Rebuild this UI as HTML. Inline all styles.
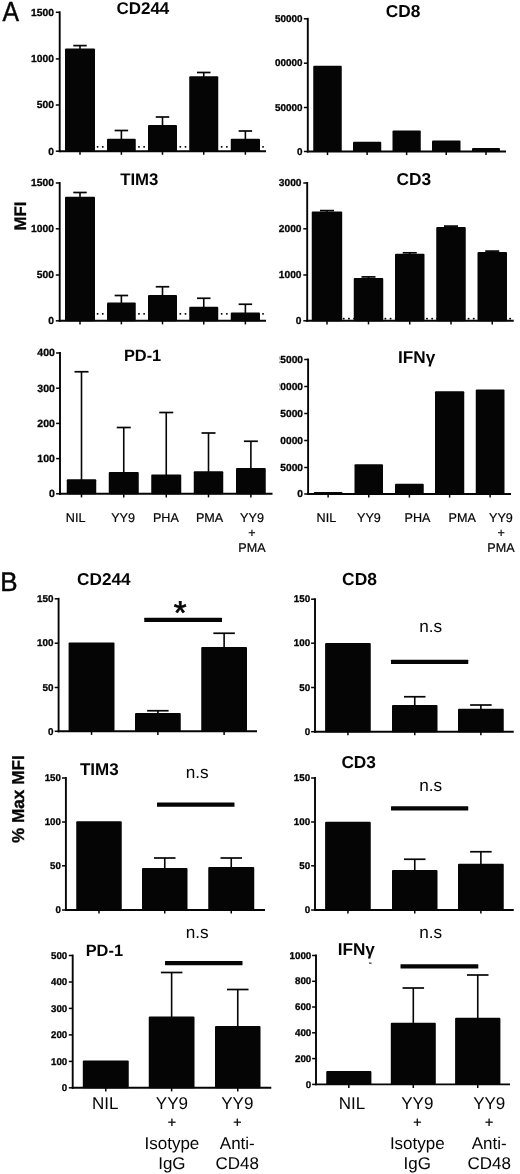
<!DOCTYPE html>
<html><head><meta charset="utf-8"><title>Figure</title>
<style>
html,body{margin:0;padding:0;background:#fff;}
svg{display:block;font-family:"Liberation Sans",sans-serif;fill:#050505;stroke:none;text-rendering:geometricPrecision;}
svg line{stroke:#050505;stroke-linecap:butt;}
svg .tl{stroke:#050505;stroke-width:0.3px;}
svg .xl{stroke:#050505;stroke-width:0.2px;}
</style></head><body>
<svg width="520" height="1174" viewBox="0 0 520 1174">
<defs>
<clipPath id="cl8"><rect x="274.5" y="0" width="60" height="170"/></clipPath>
<clipPath id="clg"><rect x="279.7" y="340" width="60" height="170"/></clipPath>
</defs>
<rect x="0" y="0" width="520" height="1174" fill="#fff"/>

<text transform="translate(2.4,20.7) scale(0.9,1)" font-size="27.5" stroke="#050505" stroke-width="0.45">A</text>
<rect x="96.70" y="145.90" width="1.8" height="1.8" rx="0.6"/>
<rect x="101.87" y="145.90" width="1.8" height="1.8" rx="0.6"/>
<rect x="107.04" y="145.90" width="1.8" height="1.8" rx="0.6"/>
<rect x="112.21" y="145.90" width="1.8" height="1.8" rx="0.6"/>
<rect x="117.38" y="145.90" width="1.8" height="1.8" rx="0.6"/>
<rect x="122.55" y="145.90" width="1.8" height="1.8" rx="0.6"/>
<rect x="127.72" y="145.90" width="1.8" height="1.8" rx="0.6"/>
<rect x="132.89" y="145.90" width="1.8" height="1.8" rx="0.6"/>
<rect x="138.06" y="145.90" width="1.8" height="1.8" rx="0.6"/>
<rect x="143.23" y="145.90" width="1.8" height="1.8" rx="0.6"/>
<rect x="148.40" y="145.90" width="1.8" height="1.8" rx="0.6"/>
<rect x="153.57" y="145.90" width="1.8" height="1.8" rx="0.6"/>
<rect x="158.74" y="145.90" width="1.8" height="1.8" rx="0.6"/>
<rect x="163.91" y="145.90" width="1.8" height="1.8" rx="0.6"/>
<rect x="169.08" y="145.90" width="1.8" height="1.8" rx="0.6"/>
<rect x="174.25" y="145.90" width="1.8" height="1.8" rx="0.6"/>
<rect x="179.42" y="145.90" width="1.8" height="1.8" rx="0.6"/>
<rect x="184.59" y="145.90" width="1.8" height="1.8" rx="0.6"/>
<rect x="189.76" y="145.90" width="1.8" height="1.8" rx="0.6"/>
<rect x="194.93" y="145.90" width="1.8" height="1.8" rx="0.6"/>
<rect x="200.10" y="145.90" width="1.8" height="1.8" rx="0.6"/>
<rect x="205.27" y="145.90" width="1.8" height="1.8" rx="0.6"/>
<rect x="210.44" y="145.90" width="1.8" height="1.8" rx="0.6"/>
<rect x="215.61" y="145.90" width="1.8" height="1.8" rx="0.6"/>
<rect x="220.78" y="145.90" width="1.8" height="1.8" rx="0.6"/>
<rect x="225.95" y="145.90" width="1.8" height="1.8" rx="0.6"/>
<rect x="231.12" y="145.90" width="1.8" height="1.8" rx="0.6"/>
<rect x="236.29" y="145.90" width="1.8" height="1.8" rx="0.6"/>
<rect x="241.46" y="145.90" width="1.8" height="1.8" rx="0.6"/>
<rect x="246.63" y="145.90" width="1.8" height="1.8" rx="0.6"/>
<rect x="251.80" y="145.90" width="1.8" height="1.8" rx="0.6"/>
<rect x="256.97" y="145.90" width="1.8" height="1.8" rx="0.6"/>
<rect x="262.14" y="145.90" width="1.8" height="1.8" rx="0.6"/>
<line x1="59.70" y1="11.35" x2="59.70" y2="152.15" stroke-width="1.9"/>
<line x1="58.75" y1="151.20" x2="266.00" y2="151.20" stroke-width="1.9"/>
<line x1="55.80" y1="12.30" x2="59.70" y2="12.30" stroke-width="1.5"/>
<text x="54.00" y="15.65" font-size="10.3" text-anchor="end" font-weight="bold" class="tl">1500</text>
<line x1="55.80" y1="58.90" x2="59.70" y2="58.90" stroke-width="1.5"/>
<text x="54.00" y="62.25" font-size="10.3" text-anchor="end" font-weight="bold" class="tl">1000</text>
<line x1="55.80" y1="105.00" x2="59.70" y2="105.00" stroke-width="1.5"/>
<text x="54.00" y="108.35" font-size="10.3" text-anchor="end" font-weight="bold" class="tl">500</text>
<line x1="55.80" y1="151.20" x2="59.70" y2="151.20" stroke-width="1.5"/>
<text x="54.00" y="154.55" font-size="10.3" text-anchor="end" font-weight="bold" class="tl">0</text>
<rect x="65.00" y="48.60" width="30.00" height="103.10" rx="1"/>
<line x1="80.00" y1="151.20" x2="80.00" y2="154.80" stroke-width="1.5"/>
<line x1="80.00" y1="45.60" x2="80.00" y2="49.60" stroke-width="1.6"/>
<line x1="73.25" y1="45.60" x2="86.75" y2="45.60" stroke-width="1.7"/>
<rect x="107.00" y="138.75" width="28.75" height="12.95" rx="1"/>
<line x1="121.38" y1="151.20" x2="121.38" y2="154.80" stroke-width="1.5"/>
<line x1="121.38" y1="130.50" x2="121.38" y2="139.75" stroke-width="1.6"/>
<line x1="114.62" y1="130.50" x2="128.12" y2="130.50" stroke-width="1.7"/>
<rect x="148.00" y="125.00" width="29.00" height="26.70" rx="1"/>
<line x1="162.50" y1="151.20" x2="162.50" y2="154.80" stroke-width="1.5"/>
<line x1="162.50" y1="117.00" x2="162.50" y2="126.00" stroke-width="1.6"/>
<line x1="155.75" y1="117.00" x2="169.25" y2="117.00" stroke-width="1.7"/>
<rect x="189.25" y="76.25" width="29.00" height="75.45" rx="1"/>
<line x1="203.75" y1="151.20" x2="203.75" y2="154.80" stroke-width="1.5"/>
<line x1="203.75" y1="72.50" x2="203.75" y2="77.25" stroke-width="1.6"/>
<line x1="197.00" y1="72.50" x2="210.50" y2="72.50" stroke-width="1.7"/>
<rect x="230.75" y="138.75" width="29.25" height="12.95" rx="1"/>
<line x1="245.38" y1="151.20" x2="245.38" y2="154.80" stroke-width="1.5"/>
<line x1="245.38" y1="131.00" x2="245.38" y2="139.75" stroke-width="1.6"/>
<line x1="238.62" y1="131.00" x2="252.12" y2="131.00" stroke-width="1.7"/>
<text x="116.40" y="14.30" font-size="17" text-anchor="start" font-weight="bold">CD244</text>
<rect x="96.70" y="312.90" width="1.8" height="1.8" rx="0.6"/>
<rect x="101.87" y="312.90" width="1.8" height="1.8" rx="0.6"/>
<rect x="107.04" y="312.90" width="1.8" height="1.8" rx="0.6"/>
<rect x="112.21" y="312.90" width="1.8" height="1.8" rx="0.6"/>
<rect x="117.38" y="312.90" width="1.8" height="1.8" rx="0.6"/>
<rect x="122.55" y="312.90" width="1.8" height="1.8" rx="0.6"/>
<rect x="127.72" y="312.90" width="1.8" height="1.8" rx="0.6"/>
<rect x="132.89" y="312.90" width="1.8" height="1.8" rx="0.6"/>
<rect x="138.06" y="312.90" width="1.8" height="1.8" rx="0.6"/>
<rect x="143.23" y="312.90" width="1.8" height="1.8" rx="0.6"/>
<rect x="148.40" y="312.90" width="1.8" height="1.8" rx="0.6"/>
<rect x="153.57" y="312.90" width="1.8" height="1.8" rx="0.6"/>
<rect x="158.74" y="312.90" width="1.8" height="1.8" rx="0.6"/>
<rect x="163.91" y="312.90" width="1.8" height="1.8" rx="0.6"/>
<rect x="169.08" y="312.90" width="1.8" height="1.8" rx="0.6"/>
<rect x="174.25" y="312.90" width="1.8" height="1.8" rx="0.6"/>
<rect x="179.42" y="312.90" width="1.8" height="1.8" rx="0.6"/>
<rect x="184.59" y="312.90" width="1.8" height="1.8" rx="0.6"/>
<rect x="189.76" y="312.90" width="1.8" height="1.8" rx="0.6"/>
<rect x="194.93" y="312.90" width="1.8" height="1.8" rx="0.6"/>
<rect x="200.10" y="312.90" width="1.8" height="1.8" rx="0.6"/>
<rect x="205.27" y="312.90" width="1.8" height="1.8" rx="0.6"/>
<rect x="210.44" y="312.90" width="1.8" height="1.8" rx="0.6"/>
<rect x="215.61" y="312.90" width="1.8" height="1.8" rx="0.6"/>
<rect x="220.78" y="312.90" width="1.8" height="1.8" rx="0.6"/>
<rect x="225.95" y="312.90" width="1.8" height="1.8" rx="0.6"/>
<rect x="231.12" y="312.90" width="1.8" height="1.8" rx="0.6"/>
<rect x="236.29" y="312.90" width="1.8" height="1.8" rx="0.6"/>
<rect x="241.46" y="312.90" width="1.8" height="1.8" rx="0.6"/>
<rect x="246.63" y="312.90" width="1.8" height="1.8" rx="0.6"/>
<rect x="251.80" y="312.90" width="1.8" height="1.8" rx="0.6"/>
<rect x="256.97" y="312.90" width="1.8" height="1.8" rx="0.6"/>
<rect x="262.14" y="312.90" width="1.8" height="1.8" rx="0.6"/>
<line x1="59.70" y1="182.05" x2="59.70" y2="321.75" stroke-width="1.9"/>
<line x1="58.75" y1="320.80" x2="266.00" y2="320.80" stroke-width="1.9"/>
<line x1="55.80" y1="183.00" x2="59.70" y2="183.00" stroke-width="1.5"/>
<text x="54.00" y="186.35" font-size="10.3" text-anchor="end" font-weight="bold" class="tl">1500</text>
<line x1="55.80" y1="228.80" x2="59.70" y2="228.80" stroke-width="1.5"/>
<text x="54.00" y="232.15" font-size="10.3" text-anchor="end" font-weight="bold" class="tl">1000</text>
<line x1="55.80" y1="275.00" x2="59.70" y2="275.00" stroke-width="1.5"/>
<text x="54.00" y="278.35" font-size="10.3" text-anchor="end" font-weight="bold" class="tl">500</text>
<line x1="55.80" y1="320.80" x2="59.70" y2="320.80" stroke-width="1.5"/>
<text x="54.00" y="324.15" font-size="10.3" text-anchor="end" font-weight="bold" class="tl">0</text>
<rect x="65.00" y="196.75" width="30.00" height="124.55" rx="1"/>
<line x1="80.00" y1="320.80" x2="80.00" y2="324.40" stroke-width="1.5"/>
<line x1="80.00" y1="192.50" x2="80.00" y2="197.75" stroke-width="1.6"/>
<line x1="73.25" y1="192.50" x2="86.75" y2="192.50" stroke-width="1.7"/>
<rect x="107.00" y="302.50" width="28.75" height="18.80" rx="1"/>
<line x1="121.38" y1="320.80" x2="121.38" y2="324.40" stroke-width="1.5"/>
<line x1="121.38" y1="295.50" x2="121.38" y2="303.50" stroke-width="1.6"/>
<line x1="114.62" y1="295.50" x2="128.12" y2="295.50" stroke-width="1.7"/>
<rect x="148.00" y="295.00" width="29.00" height="26.30" rx="1"/>
<line x1="162.50" y1="320.80" x2="162.50" y2="324.40" stroke-width="1.5"/>
<line x1="162.50" y1="286.75" x2="162.50" y2="296.00" stroke-width="1.6"/>
<line x1="155.75" y1="286.75" x2="169.25" y2="286.75" stroke-width="1.7"/>
<rect x="189.25" y="306.75" width="29.00" height="14.55" rx="1"/>
<line x1="203.75" y1="320.80" x2="203.75" y2="324.40" stroke-width="1.5"/>
<line x1="203.75" y1="298.25" x2="203.75" y2="307.75" stroke-width="1.6"/>
<line x1="197.00" y1="298.25" x2="210.50" y2="298.25" stroke-width="1.7"/>
<rect x="230.75" y="312.50" width="29.25" height="8.80" rx="1"/>
<line x1="245.38" y1="320.80" x2="245.38" y2="324.40" stroke-width="1.5"/>
<line x1="245.38" y1="304.25" x2="245.38" y2="313.50" stroke-width="1.6"/>
<line x1="238.62" y1="304.25" x2="252.12" y2="304.25" stroke-width="1.7"/>
<text x="120.20" y="184.90" font-size="16.8" text-anchor="start" font-weight="bold">TIM3</text>
<text transform="translate(25.9,230.4) rotate(-90)" font-size="16.8" font-weight="bold" stroke="#050505" stroke-width="0.3">MFI</text>
<line x1="60.00" y1="352.05" x2="60.00" y2="494.75" stroke-width="1.9"/>
<line x1="59.05" y1="493.80" x2="272.50" y2="493.80" stroke-width="1.9"/>
<line x1="56.10" y1="353.00" x2="60.00" y2="353.00" stroke-width="1.5"/>
<text x="54.90" y="356.42" font-size="10.5" text-anchor="end" font-weight="bold" class="tl">400</text>
<line x1="56.10" y1="388.20" x2="60.00" y2="388.20" stroke-width="1.5"/>
<text x="54.90" y="391.62" font-size="10.5" text-anchor="end" font-weight="bold" class="tl">300</text>
<line x1="56.10" y1="423.40" x2="60.00" y2="423.40" stroke-width="1.5"/>
<text x="54.90" y="426.82" font-size="10.5" text-anchor="end" font-weight="bold" class="tl">200</text>
<line x1="56.10" y1="458.60" x2="60.00" y2="458.60" stroke-width="1.5"/>
<text x="54.90" y="462.02" font-size="10.5" text-anchor="end" font-weight="bold" class="tl">100</text>
<line x1="56.10" y1="493.80" x2="60.00" y2="493.80" stroke-width="1.5"/>
<text x="54.90" y="497.22" font-size="10.5" text-anchor="end" font-weight="bold" class="tl">0</text>
<rect x="66.75" y="479.25" width="29.50" height="15.05" rx="1"/>
<line x1="81.50" y1="493.80" x2="81.50" y2="497.40" stroke-width="1.5"/>
<line x1="81.50" y1="371.75" x2="81.50" y2="480.25" stroke-width="1.6"/>
<line x1="74.50" y1="371.75" x2="88.50" y2="371.75" stroke-width="1.7"/>
<rect x="108.75" y="472.00" width="30.00" height="22.30" rx="1"/>
<line x1="123.75" y1="493.80" x2="123.75" y2="497.40" stroke-width="1.5"/>
<line x1="123.75" y1="427.50" x2="123.75" y2="473.00" stroke-width="1.6"/>
<line x1="116.75" y1="427.50" x2="130.75" y2="427.50" stroke-width="1.7"/>
<rect x="151.25" y="474.50" width="30.00" height="19.80" rx="1"/>
<line x1="166.25" y1="493.80" x2="166.25" y2="497.40" stroke-width="1.5"/>
<line x1="166.25" y1="412.50" x2="166.25" y2="475.50" stroke-width="1.6"/>
<line x1="159.25" y1="412.50" x2="173.25" y2="412.50" stroke-width="1.7"/>
<rect x="193.75" y="471.25" width="29.50" height="23.05" rx="1"/>
<line x1="208.50" y1="493.80" x2="208.50" y2="497.40" stroke-width="1.5"/>
<line x1="208.50" y1="433.00" x2="208.50" y2="472.25" stroke-width="1.6"/>
<line x1="201.50" y1="433.00" x2="215.50" y2="433.00" stroke-width="1.7"/>
<rect x="236.00" y="468.00" width="29.75" height="26.30" rx="1"/>
<line x1="250.88" y1="493.80" x2="250.88" y2="497.40" stroke-width="1.5"/>
<line x1="250.88" y1="441.25" x2="250.88" y2="469.00" stroke-width="1.6"/>
<line x1="243.88" y1="441.25" x2="257.88" y2="441.25" stroke-width="1.7"/>
<text x="123.90" y="361.30" font-size="16.4" text-anchor="start" font-weight="bold">PD-1</text>
<line x1="307.80" y1="17.85" x2="307.80" y2="152.45" stroke-width="1.9"/>
<line x1="306.85" y1="151.50" x2="506.00" y2="151.50" stroke-width="1.9"/>
<line x1="303.90" y1="18.80" x2="307.80" y2="18.80" stroke-width="1.5"/>
<text x="302.50" y="22.02" font-size="9.9" text-anchor="end" font-weight="bold" class="tl">50000</text>
<line x1="303.90" y1="63.20" x2="307.80" y2="63.20" stroke-width="1.5"/>
<text x="302.50" y="66.42" font-size="9.9" text-anchor="end" font-weight="bold" class="tl">00000</text>
<line x1="303.90" y1="107.50" x2="307.80" y2="107.50" stroke-width="1.5"/>
<text x="302.50" y="110.72" font-size="9.9" text-anchor="end" font-weight="bold" class="tl">50000</text>
<line x1="303.90" y1="151.50" x2="307.80" y2="151.50" stroke-width="1.5"/>
<text x="302.50" y="154.72" font-size="9.9" text-anchor="end" font-weight="bold" class="tl">0</text>
<rect x="313.25" y="65.75" width="28.50" height="86.25" rx="1"/>
<line x1="327.50" y1="151.50" x2="327.50" y2="155.10" stroke-width="1.5"/>
<rect x="353.00" y="141.75" width="28.25" height="10.25" rx="1"/>
<line x1="367.12" y1="151.50" x2="367.12" y2="155.10" stroke-width="1.5"/>
<rect x="392.50" y="130.50" width="28.25" height="21.50" rx="1"/>
<line x1="406.62" y1="151.50" x2="406.62" y2="155.10" stroke-width="1.5"/>
<rect x="432.00" y="140.50" width="28.50" height="11.50" rx="1"/>
<line x1="446.25" y1="151.50" x2="446.25" y2="155.10" stroke-width="1.5"/>
<rect x="472.00" y="148.00" width="28.00" height="4.00" rx="1"/>
<line x1="486.00" y1="151.50" x2="486.00" y2="155.10" stroke-width="1.5"/>
<text x="385.80" y="17.20" font-size="17.3" text-anchor="start" font-weight="bold">CD8</text>
<rect x="342.85" y="317.70" width="1.8" height="1.8" rx="0.6"/>
<rect x="348.05" y="317.70" width="1.8" height="1.8" rx="0.6"/>
<rect x="353.25" y="317.70" width="1.8" height="1.8" rx="0.6"/>
<rect x="358.45" y="317.70" width="1.8" height="1.8" rx="0.6"/>
<rect x="363.65" y="317.70" width="1.8" height="1.8" rx="0.6"/>
<rect x="368.85" y="317.70" width="1.8" height="1.8" rx="0.6"/>
<rect x="374.05" y="317.70" width="1.8" height="1.8" rx="0.6"/>
<rect x="379.25" y="317.70" width="1.8" height="1.8" rx="0.6"/>
<rect x="384.45" y="317.70" width="1.8" height="1.8" rx="0.6"/>
<rect x="389.65" y="317.70" width="1.8" height="1.8" rx="0.6"/>
<rect x="394.85" y="317.70" width="1.8" height="1.8" rx="0.6"/>
<rect x="400.05" y="317.70" width="1.8" height="1.8" rx="0.6"/>
<rect x="405.25" y="317.70" width="1.8" height="1.8" rx="0.6"/>
<rect x="410.45" y="317.70" width="1.8" height="1.8" rx="0.6"/>
<rect x="415.65" y="317.70" width="1.8" height="1.8" rx="0.6"/>
<rect x="420.85" y="317.70" width="1.8" height="1.8" rx="0.6"/>
<rect x="426.05" y="317.70" width="1.8" height="1.8" rx="0.6"/>
<rect x="431.25" y="317.70" width="1.8" height="1.8" rx="0.6"/>
<rect x="436.45" y="317.70" width="1.8" height="1.8" rx="0.6"/>
<rect x="441.65" y="317.70" width="1.8" height="1.8" rx="0.6"/>
<rect x="446.85" y="317.70" width="1.8" height="1.8" rx="0.6"/>
<rect x="452.05" y="317.70" width="1.8" height="1.8" rx="0.6"/>
<rect x="457.25" y="317.70" width="1.8" height="1.8" rx="0.6"/>
<rect x="462.45" y="317.70" width="1.8" height="1.8" rx="0.6"/>
<rect x="467.65" y="317.70" width="1.8" height="1.8" rx="0.6"/>
<rect x="472.85" y="317.70" width="1.8" height="1.8" rx="0.6"/>
<rect x="478.05" y="317.70" width="1.8" height="1.8" rx="0.6"/>
<rect x="483.25" y="317.70" width="1.8" height="1.8" rx="0.6"/>
<rect x="488.45" y="317.70" width="1.8" height="1.8" rx="0.6"/>
<rect x="493.65" y="317.70" width="1.8" height="1.8" rx="0.6"/>
<rect x="498.85" y="317.70" width="1.8" height="1.8" rx="0.6"/>
<rect x="504.05" y="317.70" width="1.8" height="1.8" rx="0.6"/>
<rect x="509.25" y="317.70" width="1.8" height="1.8" rx="0.6"/>
<line x1="307.20" y1="182.05" x2="307.20" y2="321.75" stroke-width="1.9"/>
<line x1="306.25" y1="320.80" x2="513.75" y2="320.80" stroke-width="1.9"/>
<line x1="303.30" y1="183.00" x2="307.20" y2="183.00" stroke-width="1.5"/>
<text x="301.50" y="186.32" font-size="10.2" text-anchor="end" font-weight="bold" class="tl">3000</text>
<line x1="303.30" y1="228.80" x2="307.20" y2="228.80" stroke-width="1.5"/>
<text x="301.50" y="232.12" font-size="10.2" text-anchor="end" font-weight="bold" class="tl">2000</text>
<line x1="303.30" y1="275.00" x2="307.20" y2="275.00" stroke-width="1.5"/>
<text x="301.50" y="278.32" font-size="10.2" text-anchor="end" font-weight="bold" class="tl">1000</text>
<line x1="303.30" y1="320.80" x2="307.20" y2="320.80" stroke-width="1.5"/>
<text x="301.50" y="324.12" font-size="10.2" text-anchor="end" font-weight="bold" class="tl">0</text>
<rect x="311.75" y="211.50" width="30.45" height="109.80" rx="1"/>
<line x1="326.98" y1="320.80" x2="326.98" y2="324.40" stroke-width="1.5"/>
<line x1="326.98" y1="210.60" x2="326.98" y2="212.50" stroke-width="1.6"/>
<line x1="319.98" y1="210.60" x2="333.98" y2="210.60" stroke-width="1.7"/>
<rect x="353.75" y="277.90" width="29.50" height="43.40" rx="1"/>
<line x1="368.50" y1="320.80" x2="368.50" y2="324.40" stroke-width="1.5"/>
<line x1="368.50" y1="276.90" x2="368.50" y2="278.90" stroke-width="1.6"/>
<line x1="361.50" y1="276.90" x2="375.50" y2="276.90" stroke-width="1.7"/>
<rect x="395.00" y="253.75" width="29.50" height="67.55" rx="1"/>
<line x1="409.75" y1="320.80" x2="409.75" y2="324.40" stroke-width="1.5"/>
<line x1="409.75" y1="252.80" x2="409.75" y2="254.75" stroke-width="1.6"/>
<line x1="402.75" y1="252.80" x2="416.75" y2="252.80" stroke-width="1.7"/>
<rect x="436.25" y="227.00" width="29.50" height="94.30" rx="1"/>
<line x1="451.00" y1="320.80" x2="451.00" y2="324.40" stroke-width="1.5"/>
<line x1="451.00" y1="226.10" x2="451.00" y2="228.00" stroke-width="1.6"/>
<line x1="444.00" y1="226.10" x2="458.00" y2="226.10" stroke-width="1.7"/>
<rect x="477.50" y="252.00" width="29.50" height="69.30" rx="1"/>
<line x1="492.25" y1="320.80" x2="492.25" y2="324.40" stroke-width="1.5"/>
<line x1="492.25" y1="251.10" x2="492.25" y2="253.00" stroke-width="1.6"/>
<line x1="485.25" y1="251.10" x2="499.25" y2="251.10" stroke-width="1.7"/>
<text x="396.50" y="185.00" font-size="17.3" text-anchor="start" font-weight="bold">CD3</text>
<line x1="308.10" y1="358.55" x2="308.10" y2="494.95" stroke-width="1.9"/>
<line x1="307.15" y1="494.00" x2="511.00" y2="494.00" stroke-width="1.9"/>
<line x1="304.20" y1="359.50" x2="308.10" y2="359.50" stroke-width="1.5"/>
<text x="303.00" y="362.82" font-size="10.2" text-anchor="end" font-weight="bold" clip-path="url(#clg)" class="tl">25000</text>
<line x1="304.20" y1="386.50" x2="308.10" y2="386.50" stroke-width="1.5"/>
<text x="303.00" y="389.82" font-size="10.2" text-anchor="end" font-weight="bold" clip-path="url(#clg)" class="tl">20000</text>
<line x1="304.20" y1="413.50" x2="308.10" y2="413.50" stroke-width="1.5"/>
<text x="303.00" y="416.82" font-size="10.2" text-anchor="end" font-weight="bold" clip-path="url(#clg)" class="tl">5000</text>
<line x1="304.20" y1="440.50" x2="308.10" y2="440.50" stroke-width="1.5"/>
<text x="303.00" y="443.82" font-size="10.2" text-anchor="end" font-weight="bold" clip-path="url(#clg)" class="tl">0000</text>
<line x1="304.20" y1="467.50" x2="308.10" y2="467.50" stroke-width="1.5"/>
<text x="303.00" y="470.82" font-size="10.2" text-anchor="end" font-weight="bold" clip-path="url(#clg)" class="tl">5000</text>
<line x1="304.20" y1="494.00" x2="308.10" y2="494.00" stroke-width="1.5"/>
<text x="303.00" y="497.32" font-size="10.2" text-anchor="end" font-weight="bold" clip-path="url(#clg)" class="tl">0</text>
<rect x="313.75" y="492.00" width="28.75" height="2.50" rx="1"/>
<line x1="328.12" y1="494.00" x2="328.12" y2="497.60" stroke-width="1.5"/>
<rect x="354.50" y="464.25" width="28.50" height="30.25" rx="1"/>
<line x1="368.75" y1="494.00" x2="368.75" y2="497.60" stroke-width="1.5"/>
<rect x="395.00" y="483.75" width="28.75" height="10.75" rx="1"/>
<line x1="409.38" y1="494.00" x2="409.38" y2="497.60" stroke-width="1.5"/>
<rect x="435.00" y="391.25" width="29.25" height="103.25" rx="1"/>
<line x1="449.62" y1="494.00" x2="449.62" y2="497.60" stroke-width="1.5"/>
<rect x="475.75" y="389.50" width="28.75" height="105.00" rx="1"/>
<line x1="490.12" y1="494.00" x2="490.12" y2="497.60" stroke-width="1.5"/>
<text x="398.10" y="363.30" font-size="17.2" text-anchor="start" font-weight="bold">IFNγ</text>
<text x="75.60" y="521.90" font-size="12.6" text-anchor="middle" font-weight="normal" class="xl">NIL</text>
<text x="123.10" y="521.90" font-size="12.6" text-anchor="middle" font-weight="normal" class="xl">YY9</text>
<text x="165.90" y="521.90" font-size="12.6" text-anchor="middle" font-weight="normal" class="xl">PHA</text>
<text x="209.60" y="521.90" font-size="12.6" text-anchor="middle" font-weight="normal" class="xl">PMA</text>
<text x="252.00" y="521.90" font-size="12.6" text-anchor="middle" font-weight="normal" class="xl">YY9</text>
<text x="252.00" y="537.00" font-size="12.6" text-anchor="middle" font-weight="normal" class="xl">+</text>
<text x="252.00" y="551.90" font-size="12.6" text-anchor="middle" font-weight="normal" class="xl">PMA</text>
<text x="326.40" y="521.90" font-size="12.6" text-anchor="middle" font-weight="normal" class="xl">NIL</text>
<text x="368.90" y="521.90" font-size="12.6" text-anchor="middle" font-weight="normal" class="xl">YY9</text>
<text x="417.50" y="521.90" font-size="12.6" text-anchor="middle" font-weight="normal" class="xl">PHA</text>
<text x="462.20" y="521.90" font-size="12.6" text-anchor="middle" font-weight="normal" class="xl">PMA</text>
<text x="500.90" y="521.90" font-size="12.6" text-anchor="middle" font-weight="normal" class="xl">YY9</text>
<text x="501.20" y="537.00" font-size="12.6" text-anchor="middle" font-weight="normal" class="xl">+</text>
<text x="500.90" y="551.90" font-size="12.6" text-anchor="middle" font-weight="normal" class="xl">PMA</text>
<text transform="translate(0.3,591.0) scale(0.97,1)" font-size="26.8" stroke="#050505" stroke-width="0.5">B</text>
<line x1="58.60" y1="597.85" x2="58.60" y2="732.25" stroke-width="1.9"/>
<line x1="57.65" y1="731.30" x2="257.00" y2="731.30" stroke-width="1.9"/>
<line x1="54.70" y1="598.80" x2="58.60" y2="598.80" stroke-width="1.5"/>
<text x="53.40" y="602.02" font-size="9.9" text-anchor="end" font-weight="bold" class="tl">150</text>
<line x1="54.70" y1="643.20" x2="58.60" y2="643.20" stroke-width="1.5"/>
<text x="53.40" y="646.42" font-size="9.9" text-anchor="end" font-weight="bold" class="tl">100</text>
<line x1="54.70" y1="687.50" x2="58.60" y2="687.50" stroke-width="1.5"/>
<text x="53.40" y="690.72" font-size="9.9" text-anchor="end" font-weight="bold" class="tl">50</text>
<line x1="54.70" y1="731.30" x2="58.60" y2="731.30" stroke-width="1.5"/>
<text x="53.40" y="734.52" font-size="9.9" text-anchor="end" font-weight="bold" class="tl">0</text>
<rect x="68.60" y="642.50" width="45.90" height="89.30" rx="1"/>
<line x1="91.55" y1="731.30" x2="91.55" y2="734.90" stroke-width="1.5"/>
<rect x="135.00" y="713.00" width="45.75" height="18.80" rx="1"/>
<line x1="157.88" y1="731.30" x2="157.88" y2="734.90" stroke-width="1.5"/>
<line x1="157.88" y1="710.75" x2="157.88" y2="714.00" stroke-width="1.6"/>
<line x1="147.12" y1="710.75" x2="168.62" y2="710.75" stroke-width="1.7"/>
<rect x="201.25" y="647.00" width="45.75" height="84.80" rx="1"/>
<line x1="224.12" y1="731.30" x2="224.12" y2="734.90" stroke-width="1.5"/>
<line x1="224.12" y1="633.25" x2="224.12" y2="648.00" stroke-width="1.6"/>
<line x1="213.38" y1="633.25" x2="234.88" y2="633.25" stroke-width="1.7"/>
<text x="77.10" y="584.80" font-size="17.2" text-anchor="start" font-weight="bold">CD244</text>
<rect x="144.25" y="617.80" width="77.75" height="4.20" rx="0.5"/>
<text x="180.10" y="624.00" font-size="33" text-anchor="middle" font-weight="normal" stroke="#050505" stroke-width="0.7">*</text>
<line x1="65.90" y1="777.05" x2="65.90" y2="910.95" stroke-width="1.9"/>
<line x1="64.95" y1="910.00" x2="265.00" y2="910.00" stroke-width="1.9"/>
<line x1="62.00" y1="778.00" x2="65.90" y2="778.00" stroke-width="1.5"/>
<text x="60.90" y="781.15" font-size="9.7" text-anchor="end" font-weight="bold" class="tl">150</text>
<line x1="62.00" y1="822.00" x2="65.90" y2="822.00" stroke-width="1.5"/>
<text x="60.90" y="825.15" font-size="9.7" text-anchor="end" font-weight="bold" class="tl">100</text>
<line x1="62.00" y1="865.80" x2="65.90" y2="865.80" stroke-width="1.5"/>
<text x="60.90" y="868.95" font-size="9.7" text-anchor="end" font-weight="bold" class="tl">50</text>
<line x1="62.00" y1="910.00" x2="65.90" y2="910.00" stroke-width="1.5"/>
<text x="60.90" y="913.15" font-size="9.7" text-anchor="end" font-weight="bold" class="tl">0</text>
<rect x="76.25" y="821.25" width="45.50" height="89.25" rx="1"/>
<line x1="99.00" y1="910.00" x2="99.00" y2="913.60" stroke-width="1.5"/>
<rect x="142.00" y="868.00" width="45.50" height="42.50" rx="1"/>
<line x1="164.75" y1="910.00" x2="164.75" y2="913.60" stroke-width="1.5"/>
<line x1="164.75" y1="858.00" x2="164.75" y2="869.00" stroke-width="1.6"/>
<line x1="154.00" y1="858.00" x2="175.50" y2="858.00" stroke-width="1.7"/>
<rect x="208.25" y="867.00" width="46.00" height="43.50" rx="1"/>
<line x1="231.25" y1="910.00" x2="231.25" y2="913.60" stroke-width="1.5"/>
<line x1="231.25" y1="858.00" x2="231.25" y2="868.00" stroke-width="1.6"/>
<line x1="220.50" y1="858.00" x2="242.00" y2="858.00" stroke-width="1.7"/>
<text x="79.90" y="774.80" font-size="17.0" text-anchor="start" font-weight="bold">TIM3</text>
<rect x="157.00" y="802.50" width="77.50" height="4.20" rx="0.5"/>
<text x="197.10" y="777.60" font-size="17.2" text-anchor="middle" font-weight="normal">n.s</text>
<text transform="translate(23.6,843.1) rotate(-90)" font-size="17.2" font-weight="bold" stroke="#050505" stroke-width="0.35">% Max MFI</text>
<line x1="72.70" y1="954.55" x2="72.70" y2="1088.75" stroke-width="1.9"/>
<line x1="71.75" y1="1087.80" x2="271.30" y2="1087.80" stroke-width="1.9"/>
<line x1="68.80" y1="955.50" x2="72.70" y2="955.50" stroke-width="1.5"/>
<text x="67.20" y="958.65" font-size="9.7" text-anchor="end" font-weight="bold" class="tl">500</text>
<line x1="68.80" y1="982.00" x2="72.70" y2="982.00" stroke-width="1.5"/>
<text x="67.20" y="985.15" font-size="9.7" text-anchor="end" font-weight="bold" class="tl">400</text>
<line x1="68.80" y1="1008.40" x2="72.70" y2="1008.40" stroke-width="1.5"/>
<text x="67.20" y="1011.55" font-size="9.7" text-anchor="end" font-weight="bold" class="tl">300</text>
<line x1="68.80" y1="1034.90" x2="72.70" y2="1034.90" stroke-width="1.5"/>
<text x="67.20" y="1038.05" font-size="9.7" text-anchor="end" font-weight="bold" class="tl">200</text>
<line x1="68.80" y1="1061.40" x2="72.70" y2="1061.40" stroke-width="1.5"/>
<text x="67.20" y="1064.55" font-size="9.7" text-anchor="end" font-weight="bold" class="tl">100</text>
<line x1="68.80" y1="1087.80" x2="72.70" y2="1087.80" stroke-width="1.5"/>
<text x="67.20" y="1090.95" font-size="9.7" text-anchor="end" font-weight="bold" class="tl">0</text>
<rect x="82.80" y="1060.40" width="45.95" height="27.90" rx="1"/>
<line x1="105.78" y1="1087.80" x2="105.78" y2="1091.40" stroke-width="1.5"/>
<rect x="148.75" y="1016.50" width="45.75" height="71.80" rx="1"/>
<line x1="171.62" y1="1087.80" x2="171.62" y2="1091.40" stroke-width="1.5"/>
<line x1="171.62" y1="972.50" x2="171.62" y2="1017.50" stroke-width="1.6"/>
<line x1="160.88" y1="972.50" x2="182.38" y2="972.50" stroke-width="1.7"/>
<rect x="215.00" y="1026.00" width="45.50" height="62.30" rx="1"/>
<line x1="237.75" y1="1087.80" x2="237.75" y2="1091.40" stroke-width="1.5"/>
<line x1="237.75" y1="989.50" x2="237.75" y2="1027.00" stroke-width="1.6"/>
<line x1="227.00" y1="989.50" x2="248.50" y2="989.50" stroke-width="1.7"/>
<text x="85.70" y="955.60" font-size="16.4" text-anchor="start" font-weight="bold">PD-1</text>
<rect x="165.00" y="961.00" width="77.50" height="4.20" rx="0.5"/>
<text x="197.10" y="937.60" font-size="17.2" text-anchor="middle" font-weight="normal">n.s</text>
<line x1="315.00" y1="598.25" x2="315.00" y2="732.65" stroke-width="1.9"/>
<line x1="314.05" y1="731.70" x2="513.75" y2="731.70" stroke-width="1.9"/>
<line x1="311.10" y1="599.20" x2="315.00" y2="599.20" stroke-width="1.5"/>
<text x="310.20" y="602.38" font-size="9.8" text-anchor="end" font-weight="bold" class="tl">150</text>
<line x1="311.10" y1="643.20" x2="315.00" y2="643.20" stroke-width="1.5"/>
<text x="310.20" y="646.38" font-size="9.8" text-anchor="end" font-weight="bold" class="tl">100</text>
<line x1="311.10" y1="687.50" x2="315.00" y2="687.50" stroke-width="1.5"/>
<text x="310.20" y="690.68" font-size="9.8" text-anchor="end" font-weight="bold" class="tl">50</text>
<line x1="311.10" y1="731.70" x2="315.00" y2="731.70" stroke-width="1.5"/>
<text x="310.20" y="734.88" font-size="9.8" text-anchor="end" font-weight="bold" class="tl">0</text>
<rect x="325.10" y="643.00" width="45.65" height="89.20" rx="1"/>
<line x1="347.93" y1="731.70" x2="347.93" y2="735.30" stroke-width="1.5"/>
<rect x="392.00" y="705.00" width="45.50" height="27.20" rx="1"/>
<line x1="414.75" y1="731.70" x2="414.75" y2="735.30" stroke-width="1.5"/>
<line x1="414.75" y1="696.75" x2="414.75" y2="706.00" stroke-width="1.6"/>
<line x1="404.00" y1="696.75" x2="425.50" y2="696.75" stroke-width="1.7"/>
<rect x="458.00" y="708.75" width="45.75" height="23.45" rx="1"/>
<line x1="480.88" y1="731.70" x2="480.88" y2="735.30" stroke-width="1.5"/>
<line x1="480.88" y1="705.00" x2="480.88" y2="709.75" stroke-width="1.6"/>
<line x1="470.12" y1="705.00" x2="491.62" y2="705.00" stroke-width="1.7"/>
<text x="342.10" y="585.00" font-size="17.4" text-anchor="start" font-weight="bold">CD8</text>
<rect x="391.00" y="659.80" width="77.25" height="4.20" rx="0.5"/>
<text x="430.60" y="631.80" font-size="17.2" text-anchor="middle" font-weight="normal">n.s</text>
<line x1="315.00" y1="777.05" x2="315.00" y2="910.95" stroke-width="1.9"/>
<line x1="314.05" y1="910.00" x2="513.75" y2="910.00" stroke-width="1.9"/>
<line x1="311.10" y1="778.00" x2="315.00" y2="778.00" stroke-width="1.5"/>
<text x="310.20" y="781.18" font-size="9.8" text-anchor="end" font-weight="bold" class="tl">150</text>
<line x1="311.10" y1="822.00" x2="315.00" y2="822.00" stroke-width="1.5"/>
<text x="310.20" y="825.18" font-size="9.8" text-anchor="end" font-weight="bold" class="tl">100</text>
<line x1="311.10" y1="865.80" x2="315.00" y2="865.80" stroke-width="1.5"/>
<text x="310.20" y="868.98" font-size="9.8" text-anchor="end" font-weight="bold" class="tl">50</text>
<line x1="311.10" y1="910.00" x2="315.00" y2="910.00" stroke-width="1.5"/>
<text x="310.20" y="913.18" font-size="9.8" text-anchor="end" font-weight="bold" class="tl">0</text>
<rect x="325.10" y="821.75" width="45.65" height="88.75" rx="1"/>
<line x1="347.93" y1="910.00" x2="347.93" y2="913.60" stroke-width="1.5"/>
<rect x="392.00" y="870.00" width="45.50" height="40.50" rx="1"/>
<line x1="414.75" y1="910.00" x2="414.75" y2="913.60" stroke-width="1.5"/>
<line x1="414.75" y1="859.25" x2="414.75" y2="871.00" stroke-width="1.6"/>
<line x1="404.00" y1="859.25" x2="425.50" y2="859.25" stroke-width="1.7"/>
<rect x="458.00" y="863.75" width="45.75" height="46.75" rx="1"/>
<line x1="480.88" y1="910.00" x2="480.88" y2="913.60" stroke-width="1.5"/>
<line x1="480.88" y1="851.75" x2="480.88" y2="864.75" stroke-width="1.6"/>
<line x1="470.12" y1="851.75" x2="491.62" y2="851.75" stroke-width="1.7"/>
<text x="341.40" y="768.20" font-size="17.3" text-anchor="start" font-weight="bold">CD3</text>
<rect x="391.00" y="806.30" width="77.25" height="4.20" rx="0.5"/>
<text x="430.60" y="790.60" font-size="17.2" text-anchor="middle" font-weight="normal">n.s</text>
<line x1="316.00" y1="954.55" x2="316.00" y2="1085.35" stroke-width="1.9"/>
<line x1="315.05" y1="1084.40" x2="510.00" y2="1084.40" stroke-width="1.9"/>
<line x1="312.10" y1="955.50" x2="316.00" y2="955.50" stroke-width="1.5"/>
<text x="311.30" y="958.68" font-size="9.8" text-anchor="end" font-weight="bold" class="tl">1000</text>
<line x1="312.10" y1="981.30" x2="316.00" y2="981.30" stroke-width="1.5"/>
<text x="311.30" y="984.48" font-size="9.8" text-anchor="end" font-weight="bold" class="tl">800</text>
<line x1="312.10" y1="1007.00" x2="316.00" y2="1007.00" stroke-width="1.5"/>
<text x="311.30" y="1010.18" font-size="9.8" text-anchor="end" font-weight="bold" class="tl">600</text>
<line x1="312.10" y1="1032.80" x2="316.00" y2="1032.80" stroke-width="1.5"/>
<text x="311.30" y="1035.98" font-size="9.8" text-anchor="end" font-weight="bold" class="tl">400</text>
<line x1="312.10" y1="1058.60" x2="316.00" y2="1058.60" stroke-width="1.5"/>
<text x="311.30" y="1061.78" font-size="9.8" text-anchor="end" font-weight="bold" class="tl">200</text>
<line x1="312.10" y1="1084.40" x2="316.00" y2="1084.40" stroke-width="1.5"/>
<text x="311.30" y="1087.58" font-size="9.8" text-anchor="end" font-weight="bold" class="tl">0</text>
<rect x="326.25" y="1071.00" width="45.15" height="13.90" rx="1"/>
<line x1="348.82" y1="1084.40" x2="348.82" y2="1088.00" stroke-width="1.5"/>
<rect x="390.80" y="1022.75" width="45.00" height="62.15" rx="1"/>
<line x1="413.30" y1="1084.40" x2="413.30" y2="1088.00" stroke-width="1.5"/>
<line x1="413.30" y1="988.00" x2="413.30" y2="1023.75" stroke-width="1.6"/>
<line x1="402.55" y1="988.00" x2="424.05" y2="988.00" stroke-width="1.7"/>
<rect x="455.10" y="1017.80" width="45.30" height="67.10" rx="1"/>
<line x1="477.75" y1="1084.40" x2="477.75" y2="1088.00" stroke-width="1.5"/>
<line x1="477.75" y1="975.00" x2="477.75" y2="1018.80" stroke-width="1.6"/>
<line x1="467.00" y1="975.00" x2="488.50" y2="975.00" stroke-width="1.7"/>
<text x="337.70" y="954.90" font-size="17.2" text-anchor="start" font-weight="bold">IFNγ</text>
<rect x="400.50" y="964.30" width="77.80" height="4.20" rx="0.5"/>
<text x="430.60" y="937.60" font-size="17.2" text-anchor="middle" font-weight="normal">n.s</text>
<rect x="369.00" y="962.60" width="2.50" height="1.00" rx="0"/>
<text x="105.30" y="1108.70" font-size="17" text-anchor="middle" font-weight="normal">NIL</text>
<text x="171.90" y="1108.70" font-size="17" text-anchor="middle" font-weight="normal">YY9</text>
<text x="171.90" y="1126.80" font-size="14.2" text-anchor="middle" font-weight="normal" class="tl">+</text>
<text x="171.90" y="1148.70" font-size="17" text-anchor="middle" font-weight="normal">Isotype</text>
<text x="171.90" y="1168.90" font-size="17" text-anchor="middle" font-weight="normal">IgG</text>
<text x="237.30" y="1108.70" font-size="17" text-anchor="middle" font-weight="normal">YY9</text>
<text x="237.30" y="1126.80" font-size="14.2" text-anchor="middle" font-weight="normal" class="tl">+</text>
<text x="237.30" y="1148.70" font-size="17" text-anchor="middle" font-weight="normal">Anti-</text>
<text x="237.30" y="1168.90" font-size="17" text-anchor="middle" font-weight="normal">CD48</text>
<text x="351.90" y="1108.70" font-size="17" text-anchor="middle" font-weight="normal">NIL</text>
<text x="417.30" y="1108.70" font-size="17" text-anchor="middle" font-weight="normal">YY9</text>
<text x="417.30" y="1126.80" font-size="14.2" text-anchor="middle" font-weight="normal" class="tl">+</text>
<text x="417.30" y="1148.70" font-size="17" text-anchor="middle" font-weight="normal">Isotype</text>
<text x="417.30" y="1168.90" font-size="17" text-anchor="middle" font-weight="normal">IgG</text>
<text x="489.20" y="1108.70" font-size="17" text-anchor="middle" font-weight="normal">YY9</text>
<text x="489.20" y="1126.80" font-size="14.2" text-anchor="middle" font-weight="normal" class="tl">+</text>
<text x="489.20" y="1148.70" font-size="17" text-anchor="middle" font-weight="normal">Anti-</text>
<text x="489.20" y="1168.90" font-size="17" text-anchor="middle" font-weight="normal">CD48</text>
</svg>
</body></html>
